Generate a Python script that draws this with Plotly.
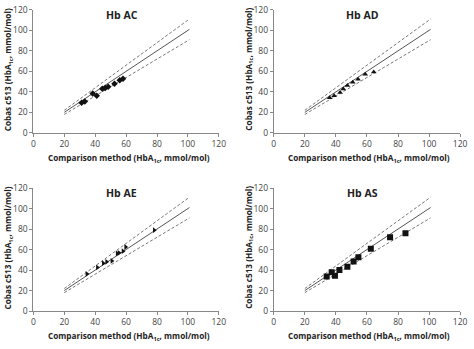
import plotly.graph_objects as go

# ---- data ----
panel_titles = ["Hb AC", "Hb AD", "Hb AE", "Hb AS"]

ac_x = [31.2, 33.3, 38.4, 41.0, 44.6, 46.5, 48.4, 52.5, 55.9, 58.0]
ac_y = [29.3, 30.6, 38.4, 36.2, 43.1, 43.8, 45.0, 47.9, 51.3, 52.9]

ad_x = [36.0, 38.9, 42.7, 44.8, 47.4, 50.9, 54.3, 58.9, 64.4]
ad_y = [34.3, 36.2, 39.4, 42.8, 46.3, 49.4, 52.3, 57.3, 59.5]

ae_x = [34.6, 41.4, 45.2, 47.4, 50.8, 54.2, 55.4, 58.0, 59.7, 78.2]
ae_y = [36.3, 42.6, 46.7, 48.0, 48.9, 56.2, 56.8, 58.4, 62.5, 78.9]

as_x = [34.1, 37.3, 39.4, 42.3, 47.4, 51.4, 54.5, 62.5, 74.9, 84.8]
as_y = [33.8, 37.9, 34.4, 40.1, 43.3, 48.3, 52.4, 60.9, 72.0, 75.8]

line_x = [20, 101]
identity_y = [20, 101]
upper_y = [22, 111.1]
lower_y = [18, 90.9]

tick_vals = [0, 20, 40, 60, 80, 100, 120]

x_title = "Comparison method (HbA<sub>1c</sub>, mmol/mol)"
y_title = "Cobas c513 (HbA<sub>1c</sub>, mmol/mol)"

# ---- layout geometry (pixels) ----
W, H = 474, 349
panels = [
    (32, 221, 4, 131),
    (277, 467, 4, 131),
    (32, 221, 188, 315),
    (277, 467, 188, 315),
]
series = [(ac_x, ac_y, "diamond", 5), (ad_x, ad_y, "triangle-up", 5),
          (ae_x, ae_y, "triangle-right", 5), (as_x, as_y, "square", 6)]

fig = go.Figure()
annotations = []
FONT = "Open Sans, Lato, sans-serif"
for i, ((px0, px1, pyt, pyb), (sx, sy, sym, ms), title) in enumerate(zip(panels, series, panel_titles)):
    n = "" if i == 0 else str(i + 1)
    xa, ya = "x" + n, "y" + n
    for yy, dash, col in [(upper_y, "dash", "#777"), (identity_y, "solid", "#555"), (lower_y, "dash", "#777")]:
        fig.add_trace(go.Scatter(x=line_x, y=yy, mode="lines", xaxis=xa, yaxis=ya,
                                 line=dict(color=col, width=1, dash="3px,2px" if dash == "dash" else "solid"),
                                 showlegend=False, hoverinfo="skip"))
    fig.add_trace(go.Scatter(x=sx, y=sy, mode="markers", xaxis=xa, yaxis=ya,
                             marker=dict(symbol=sym, size=ms, color="#111"), showlegend=False))
    xdom = [px0 / W, px1 / W]
    ydom = [(H - pyb) / H, (H - pyt) / H]
    axis_common = dict(range=[0, 120], tickvals=tick_vals, showgrid=False, zeroline=False,
                       showline=True, linecolor="#888", linewidth=1, ticks="outside",
                       ticklen=3, tickcolor="#888",
                       tickfont=dict(family=FONT, size=8.5, color="#444"))
    fig.layout["xaxis" + n] = dict(domain=xdom, anchor=ya, **axis_common)
    fig.layout["yaxis" + n] = dict(domain=ydom, anchor=xa, **axis_common)
    annotations.append(dict(text="<b>" + title + "</b>", x=(px0 + 90) / W, y=(H - pyt - 5) / H,
                            xref="paper", yref="paper", showarrow=False, xanchor="center", yanchor="middle",
                            font=dict(family=FONT, size=10.5, color="#222")))
    annotations.append(dict(text="<b>" + x_title + "</b>", x=(px0 + 97) / W, y=(H - pyb - 26) / H,
                            xref="paper", yref="paper", showarrow=False, xanchor="center", yanchor="middle",
                            font=dict(family=FONT, size=8.2, color="#222")))
    annotations.append(dict(text="<b>" + y_title + "</b>", x=(px0 - 25) / W, y=(H - (pyt + pyb) / 2 + 2) / H,
                            xref="paper", yref="paper", showarrow=False, xanchor="center", yanchor="middle",
                            textangle=-90, font=dict(family=FONT, size=8.2, color="#222")))

fig.update_layout(width=W, height=H, margin=dict(l=0, r=0, t=0, b=0),
                  paper_bgcolor="white", plot_bgcolor="white", annotations=annotations)
fig.write_html("out.html")
